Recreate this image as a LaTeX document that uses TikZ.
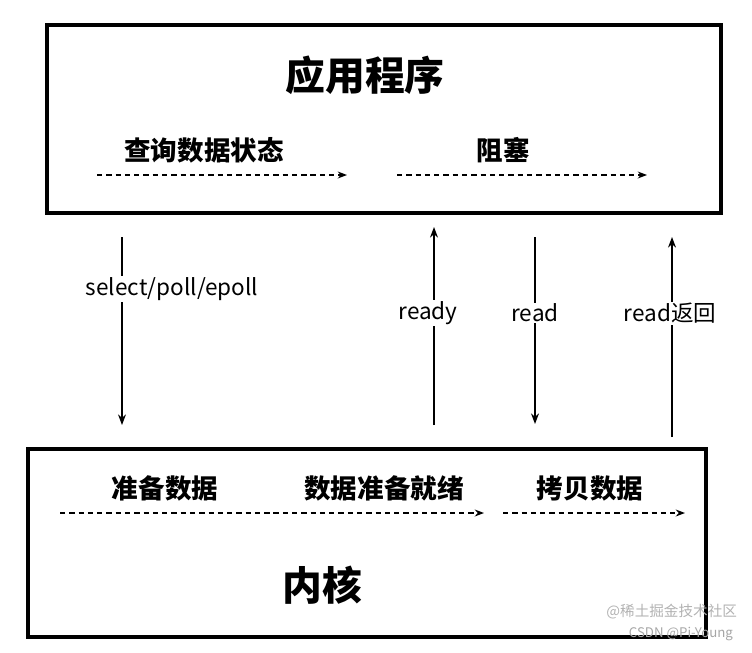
\documentclass[tikz,border=0pt]{standalone}
\usepackage{fontspec}
\setmainfont{Noto Sans CJK SC}
\usetikzlibrary{arrows.meta}

\begin{document}
\begin{tikzpicture}[x=0.0265cm, y=-0.0265cm, line width=1pt,
    box/.style={draw, line width=2.6pt},
    title/.style={font=\fontsize{30}{32}\selectfont\bfseries},
    stage/.style={font=\fontsize{20}{22}\selectfont\bfseries},
    call/.style={font=\fontsize{17}{19}\selectfont},
    flow/.style={dash pattern=on 4pt off 3pt, -{Stealth[length=7pt]}},
    sys/.style={-{Stealth[length=8pt]}}]
    \useasboundingbox (0,0) rectangle (752,652);

    % application
    \draw[box] (47,25) rectangle (721,213);
    \node[title] (app) at (365,75) {应用程序};
    \node[stage] (query) at (204,150) {查询数据状态};
    \node[stage] (block) at (503,150) {阻塞};
    \draw[flow] (97,175) -- (347,175);
    \draw[flow] (397,175) -- (647,175);

    % kernel
    \draw[box] (28,449) rectangle (706,637);
    \node[stage] (prep) at (165,488) {准备数据};
    \node[stage] (ready) at (384,488) {数据准备就绪};
    \node[stage] (copy) at (590,488) {拷贝数据};
    \node[title] (kernel) at (322,585) {内核};
    \draw[flow] (60,513) -- (484,513);
    \draw[flow] (503,513) -- (685,513);

    % calls
    \coordinate (s1) at (122,237); \coordinate (s2) at (122,425);
    \coordinate (r1) at (434,425); \coordinate (r2) at (434,227);
    \coordinate (d1) at (535,237); \coordinate (d2) at (535,424);
    \coordinate (b1) at (672,437); \coordinate (b2) at (672,237);
    \draw[sys] (s1) -- (s2);
    \draw[sys] (r1) -- (r2);
    \draw[sys] (d1) -- (d2);
    \draw[sys] (b1) -- (b2);
    \node[call, fill=white, inner sep=1pt] (sel) at (172,289) {select/poll/epoll};
    \node[call, fill=white, inner sep=1pt] (rdy) at (428,313) {ready};
    \node[call, fill=white, inner sep=1pt] (rd) at (535,313) {read};
    \node[call, fill=white, inner sep=1pt] (ret) at (670,313) {read返回};

    \node[gray!60, font=\fontsize{11}{12}\selectfont, anchor=east] (wm1) at (742,612) {@稀土掘金技术社区};
    \node[gray!70, font=\fontsize{10}{11}\selectfont, anchor=east] (wm2) at (738,634) {CSDN @Pi-Young};
\end{tikzpicture}
\end{document}
